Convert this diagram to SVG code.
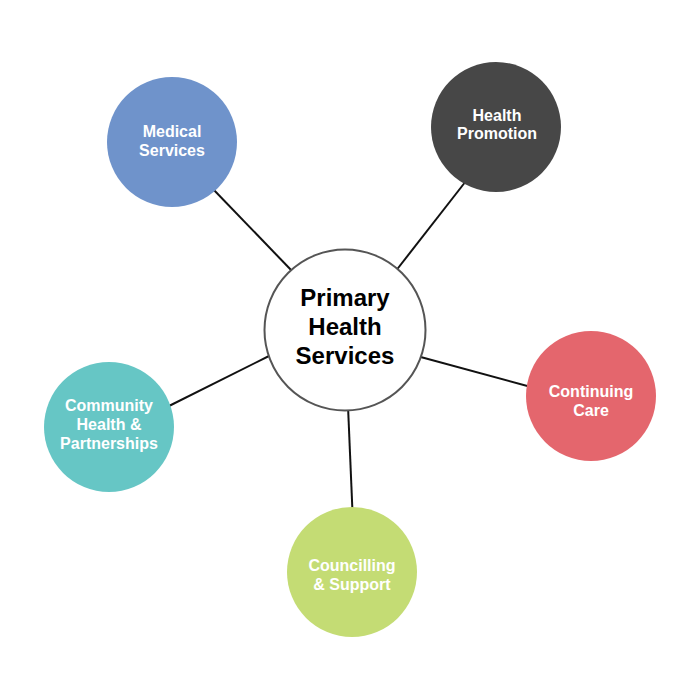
<svg xmlns="http://www.w3.org/2000/svg" width="700" height="700" viewBox="0 0 700 700">
<style>
.lbl{font-family:"Liberation Sans",Arial,sans-serif;font-weight:bold;font-size:16px;fill:#fff;text-anchor:middle}
.ctr{font-family:"Liberation Sans",Arial,sans-serif;font-weight:bold;font-size:24px;fill:#000;text-anchor:middle}
.con{stroke:#111;stroke-width:2;fill:none}
</style>
<rect width="700" height="700" fill="#fff"/>
<g id="connectors">
<line class="con" x1="293" y1="272" x2="212" y2="188"/>
<line class="con" x1="395" y1="272" x2="466" y2="181"/>
<line class="con" x1="417" y1="356" x2="531" y2="387"/>
<line class="con" x1="348" y1="406" x2="352.5" y2="512"/>
<line class="con" x1="271" y1="355" x2="167" y2="407"/>
</g>
<g id="primary">
<circle cx="345" cy="330" r="80.5" fill="#fff" stroke="#555" stroke-width="2"/>
<text class="ctr" x="345" y="306">Primary</text>
<text class="ctr" x="345" y="335">Health</text>
<text class="ctr" x="345" y="364">Services</text>
</g>
<g id="medical">
<circle cx="172" cy="142" r="65" fill="#6F93CB"/>
<text class="lbl" x="172" y="137">Medical</text>
<text class="lbl" x="172" y="156">Services</text>
</g>
<g id="promotion">
<circle cx="496" cy="127" r="65" fill="#474747"/>
<text class="lbl" x="497" y="121">Health</text>
<text class="lbl" x="497" y="139">Promotion</text>
</g>
<g id="continuing">
<circle cx="591" cy="396" r="65" fill="#E4666D"/>
<text class="lbl" x="591" y="397">Continuing</text>
<text class="lbl" x="591" y="416">Care</text>
</g>
<g id="councilling">
<circle cx="352" cy="572" r="65" fill="#C4DC74"/>
<text class="lbl" x="352" y="571">Councilling</text>
<text class="lbl" x="352" y="590">&amp; Support</text>
</g>
<g id="community">
<circle cx="109" cy="427" r="65" fill="#66C6C5"/>
<text class="lbl" x="109" y="411">Community</text>
<text class="lbl" x="109" y="430">Health &amp;</text>
<text class="lbl" x="109" y="449">Partnerships</text>
</g>
</svg>
